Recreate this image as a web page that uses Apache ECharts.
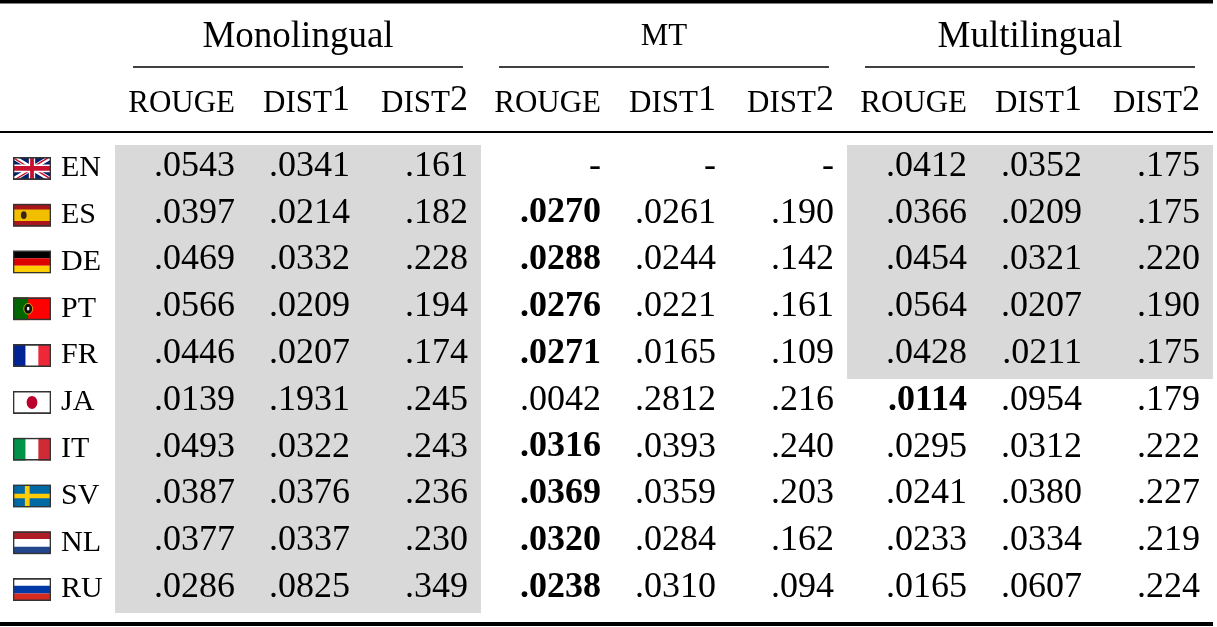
<!DOCTYPE html>
<html><head><meta charset="utf-8">
<script src="https://cdn.jsdelivr.net/npm/echarts@6/dist/echarts.min.js"></script>
<style>html,body{margin:0;padding:0;background:#fff}#c{width:1217px;height:627px}</style>
</head><body><div id="c"></div>
<script>
// ---------------- data ----------------
const languages = ['EN','ES','DE','PT','FR','JA','IT','SV','NL','RU'];
const groups = ['Monolingual','MT','Multilingual'];
const metrics = ['ROUGE','DIST1','DIST2'];
const metricDecimals = [4, 4, 3];

const mono_rouge  = [0.0543,0.0397,0.0469,0.0566,0.0446,0.0139,0.0493,0.0387,0.0377,0.0286];
const mono_dist1  = [0.0341,0.0214,0.0332,0.0209,0.0207,0.1931,0.0322,0.0376,0.0337,0.0825];
const mono_dist2  = [0.161,0.182,0.228,0.194,0.174,0.245,0.243,0.236,0.230,0.349];
const mt_rouge    = [null,0.0270,0.0288,0.0276,0.0271,0.0042,0.0316,0.0369,0.0320,0.0238];
const mt_dist1    = [null,0.0261,0.0244,0.0221,0.0165,0.2812,0.0393,0.0359,0.0284,0.0310];
const mt_dist2    = [null,0.190,0.142,0.161,0.109,0.216,0.240,0.203,0.162,0.094];
const multi_rouge = [0.0412,0.0366,0.0454,0.0564,0.0428,0.0114,0.0295,0.0241,0.0233,0.0165];
const multi_dist1 = [0.0352,0.0209,0.0321,0.0207,0.0211,0.0954,0.0312,0.0380,0.0334,0.0607];
const multi_dist2 = [0.175,0.175,0.220,0.190,0.175,0.179,0.222,0.227,0.219,0.224];

const mt_rouge_bold    = [0,1,1,1,1,0,1,1,1,1];
const multi_rouge_bold = [0,0,0,0,0,1,0,0,0,0];
const mono_shaded  = [1,1,1,1,1,1,1,1,1,1];
const mt_shaded    = [0,0,0,0,0,0,0,0,0,0];
const multi_shaded = [1,1,1,1,1,0,0,0,0,0];

// ---------------- build ----------------
const groupValues = [[mono_rouge,mono_dist1,mono_dist2],[mt_rouge,mt_dist1,mt_dist2],[multi_rouge,multi_dist1,multi_dist2]];
const groupBold = [[null,null,null],[mt_rouge_bold,null,null],[multi_rouge_bold,null,null]];
const groupShade = [mono_shaded, mt_shaded, multi_shaded];
const columns = [];
groups.forEach(g => metrics.forEach(m => columns.push(g + '|' + m)));

const fmt = (v, d) => v == null ? '-' : v.toFixed(d).replace(/^0/, '');

const cells = [];
groupValues.forEach((arrs, g) => arrs.forEach((arr, m) => arr.forEach((v, r) => {
  const b = groupBold[g][m];
  cells.push({value: [g*3+m, r], text: fmt(v, metricDecimals[m]), bold: !!(b && b[r])});
})));

const blocks = [];
groupShade.forEach((sh, g) => {
  let start = -1;
  for (let r = 0; r <= sh.length; r++) {
    if (r < sh.length && sh[r]) { if (start < 0) start = r; }
    else if (start >= 0) { blocks.push([g*3, start, g*3+2, r-1]); start = -1; }
  }
});

// ---------------- flags ----------------
function svgUri(inner) {
  const s = '<svg xmlns="http://www.w3.org/2000/svg" width="60" height="30" viewBox="0 0 60 30" preserveAspectRatio="none">' +
    inner + '<rect x="1" y="1" width="58" height="28" fill="none" stroke="#333" stroke-width="2.2"/></svg>';
  return 'data:image/svg+xml;charset=utf-8,' + encodeURIComponent(s);
}
const flags = {
  EN: svgUri('<clipPath id="t"><path d="M30,15 h30 v15 z v15 h-30 z h-30 v-15 z v-15 h30 z"/></clipPath>' +
    '<rect width="60" height="30" fill="#012169"/>' +
    '<path d="M0,0 L60,30 M60,0 L0,30" stroke="#fff" stroke-width="6"/>' +
    '<path d="M0,0 L60,30 M60,0 L0,30" clip-path="url(#t)" stroke="#C8102E" stroke-width="4"/>' +
    '<path d="M30,0 v30 M0,15 h60" stroke="#fff" stroke-width="10"/>' +
    '<path d="M30,0 v30 M0,15 h60" stroke="#C8102E" stroke-width="6"/>'),
  ES: svgUri('<rect width="60" height="30" fill="#AA151B"/><rect y="7.5" width="60" height="15" fill="#F1BF00"/>' +
    '<ellipse cx="17" cy="15" rx="4.5" ry="5" fill="#3a2416"/>'),
  DE: svgUri('<rect width="60" height="10" fill="#000"/><rect y="10" width="60" height="10" fill="#DD0000"/><rect y="20" width="60" height="10" fill="#FFCE00"/>'),
  PT: svgUri('<rect width="60" height="30" fill="#FF0000"/><rect width="24" height="30" fill="#006600"/>' +
    '<circle cx="24" cy="15" r="7" fill="#111" stroke="#FFE000" stroke-width="1"/><rect x="22.3" y="12.5" width="3.4" height="4.5" fill="#fff"/>'),
  FR: svgUri('<rect width="20" height="30" fill="#002395"/><rect x="20" width="20" height="30" fill="#fff"/><rect x="40" width="20" height="30" fill="#ED2939"/>'),
  JA: svgUri('<rect width="60" height="30" fill="#fff"/><circle cx="30" cy="15" r="8.5" fill="#BC002D"/>'),
  IT: svgUri('<rect width="20" height="30" fill="#009246"/><rect x="20" width="20" height="30" fill="#fff"/><rect x="40" width="20" height="30" fill="#CE2B37"/>'),
  SV: svgUri('<rect width="60" height="30" fill="#006AA7"/><rect x="18.75" width="7.5" height="30" fill="#FECC00"/><rect y="12" width="60" height="6" fill="#FECC00"/>'),
  NL: svgUri('<rect width="60" height="10" fill="#AE1C28"/><rect y="10" width="60" height="10" fill="#fff"/><rect y="20" width="60" height="10" fill="#21468B"/>'),
  RU: svgUri('<rect width="60" height="10" fill="#fff"/><rect y="10" width="60" height="10" fill="#0039A6"/><rect y="20" width="60" height="10" fill="#D52B1E"/>')
};

// ---------------- style ----------------
const FONT = '"Liberation Serif","Times New Roman",Times,serif';
const padRight = [2, 9, 13];   // per metric column
const shadeColor = '#d9d9d9';

const labelRich = {c: {fontFamily: FONT, fontSize: 30, color: '#000', padding: [0,0,0,10], verticalAlign: 'middle'}};
languages.forEach(l => {
  labelRich['f' + l] = {width: 38, height: 23, lineHeight: 23, backgroundColor: {image: flags[l]}, verticalAlign: 'middle'};
});

const headerRich = {
  sc: {fontFamily: FONT, fontSize: 31, color: '#000', lineHeight: 36, verticalAlign: 'bottom'},
  n:  {fontFamily: FONT, fontSize: 36, color: '#000', lineHeight: 36, verticalAlign: 'bottom'}
};
function headerText(m) {
  const mm = m.match(/^([A-Z]+)(\d*)$/);
  return '{sc|' + mm[1] + '}' + (mm[2] ? '{n|' + mm[2] + '}' : '');
}

const chart = echarts.init(document.getElementById('c'), null, {renderer: 'canvas'});
chart.setOption({
  animation: false,
  backgroundColor: '#fff',
  grid: {left: 115, right: 4, top: 145, bottom: 14},
  xAxis: {type: 'category', data: columns, show: false},
  yAxis: {
    type: 'category', data: languages, inverse: true,
    axisLine: {show: false}, axisTick: {show: false}, splitLine: {show: false},
    axisLabel: {align: 'left', margin: 102, formatter: v => '{f' + v + '|}{c|' + v + '}', rich: labelRich}
  },
  series: [
    { // shaded blocks
      type: 'custom', z: 1, data: blocks, encode: {x: [0,2], y: [1,3]},
      renderItem: (params, api) => {
        const p0 = api.coord([api.value(0), api.value(1)]);
        const p1 = api.coord([api.value(2), api.value(3)]);
        const s = api.size([1, 1]);
        return {type: 'rect', shape: {x: p0[0]-s[0]/2, y: p0[1]-s[1]/2, width: p1[0]-p0[0]+s[0], height: p1[1]-p0[1]+s[1]},
                style: {fill: shadeColor}};
      }
    },
    { // cell values
      type: 'custom', z: 3, data: cells,
      renderItem: (params, api) => {
        const cell = cells[params.dataIndex];
        const col = api.value(0), row = api.value(1);
        const c = api.coord([col, row]);
        const s = api.size([1, 1]);
        return {type: 'text', x: c[0] + s[0]/2 - padRight[col % 3], y: c[1] - 2,
          style: {text: cell.text, align: 'right', verticalAlign: 'middle', fill: '#000',
                  font: (cell.bold ? 'bold ' : '') + '36px ' + FONT}};
      }
    },
    { // metric headers
      type: 'custom', z: 3, clip: false, data: columns.map((c, i) => [i, 0]),
      renderItem: (params, api) => {
        const col = api.value(0);
        const c = api.coord([col, 0]);
        const s = api.size([1, 1]);
        return {type: 'text', x: c[0] + s[0]/2 - padRight[col % 3], y: params.coordSys.y - 44,
          style: {text: headerText(metrics[col % 3]), rich: headerRich, align: 'right', verticalAlign: 'middle'}};
      }
    },
    { // group headers + cmidrules
      type: 'custom', z: 3, clip: false, data: groups.map((g, i) => [i*3, 0, i*3+2]),
      renderItem: (params, api) => {
        const g = groups[params.dataIndex];
        const a = api.coord([api.value(0), 0]);
        const b = api.coord([api.value(2), 0]);
        const s = api.size([1, 1]);
        const left = a[0] - s[0]/2, right = b[0] + s[0]/2;
        const y0 = params.coordSys.y;
        const small = g === 'MT';
        return {type: 'group', children: [
          {type: 'text', x: (left+right)/2, y: y0 - 108,
           style: {text: g, align: 'center', verticalAlign: 'middle', fill: '#000',
                   font: (small ? '31px ' : '37px ') + FONT}},
          {type: 'line', shape: {x1: left + 18, y1: y0 - 78, x2: right - 18, y2: y0 - 78},
           style: {stroke: '#000', lineWidth: 1.5}}
        ]};
      }
    },
    { // booktabs rules
      type: 'custom', z: 4, clip: false, data: [[0, 0]],
      renderItem: (params) => {
        const cs = params.coordSys;
        const x0 = cs.x - 115, w = cs.x + cs.width - x0;
        return {type: 'group', children: [
          {type: 'rect', shape: {x: x0, y: 0, width: w, height: 3.5}, style: {fill: '#000'}},
          {type: 'rect', shape: {x: x0, y: cs.y - 14, width: w, height: 2}, style: {fill: '#000'}},
          {type: 'rect', shape: {x: x0, y: cs.y + cs.height + 9, width: w, height: 4}, style: {fill: '#000'}}
        ]};
      }
    }
  ]
});
</script></body></html>
